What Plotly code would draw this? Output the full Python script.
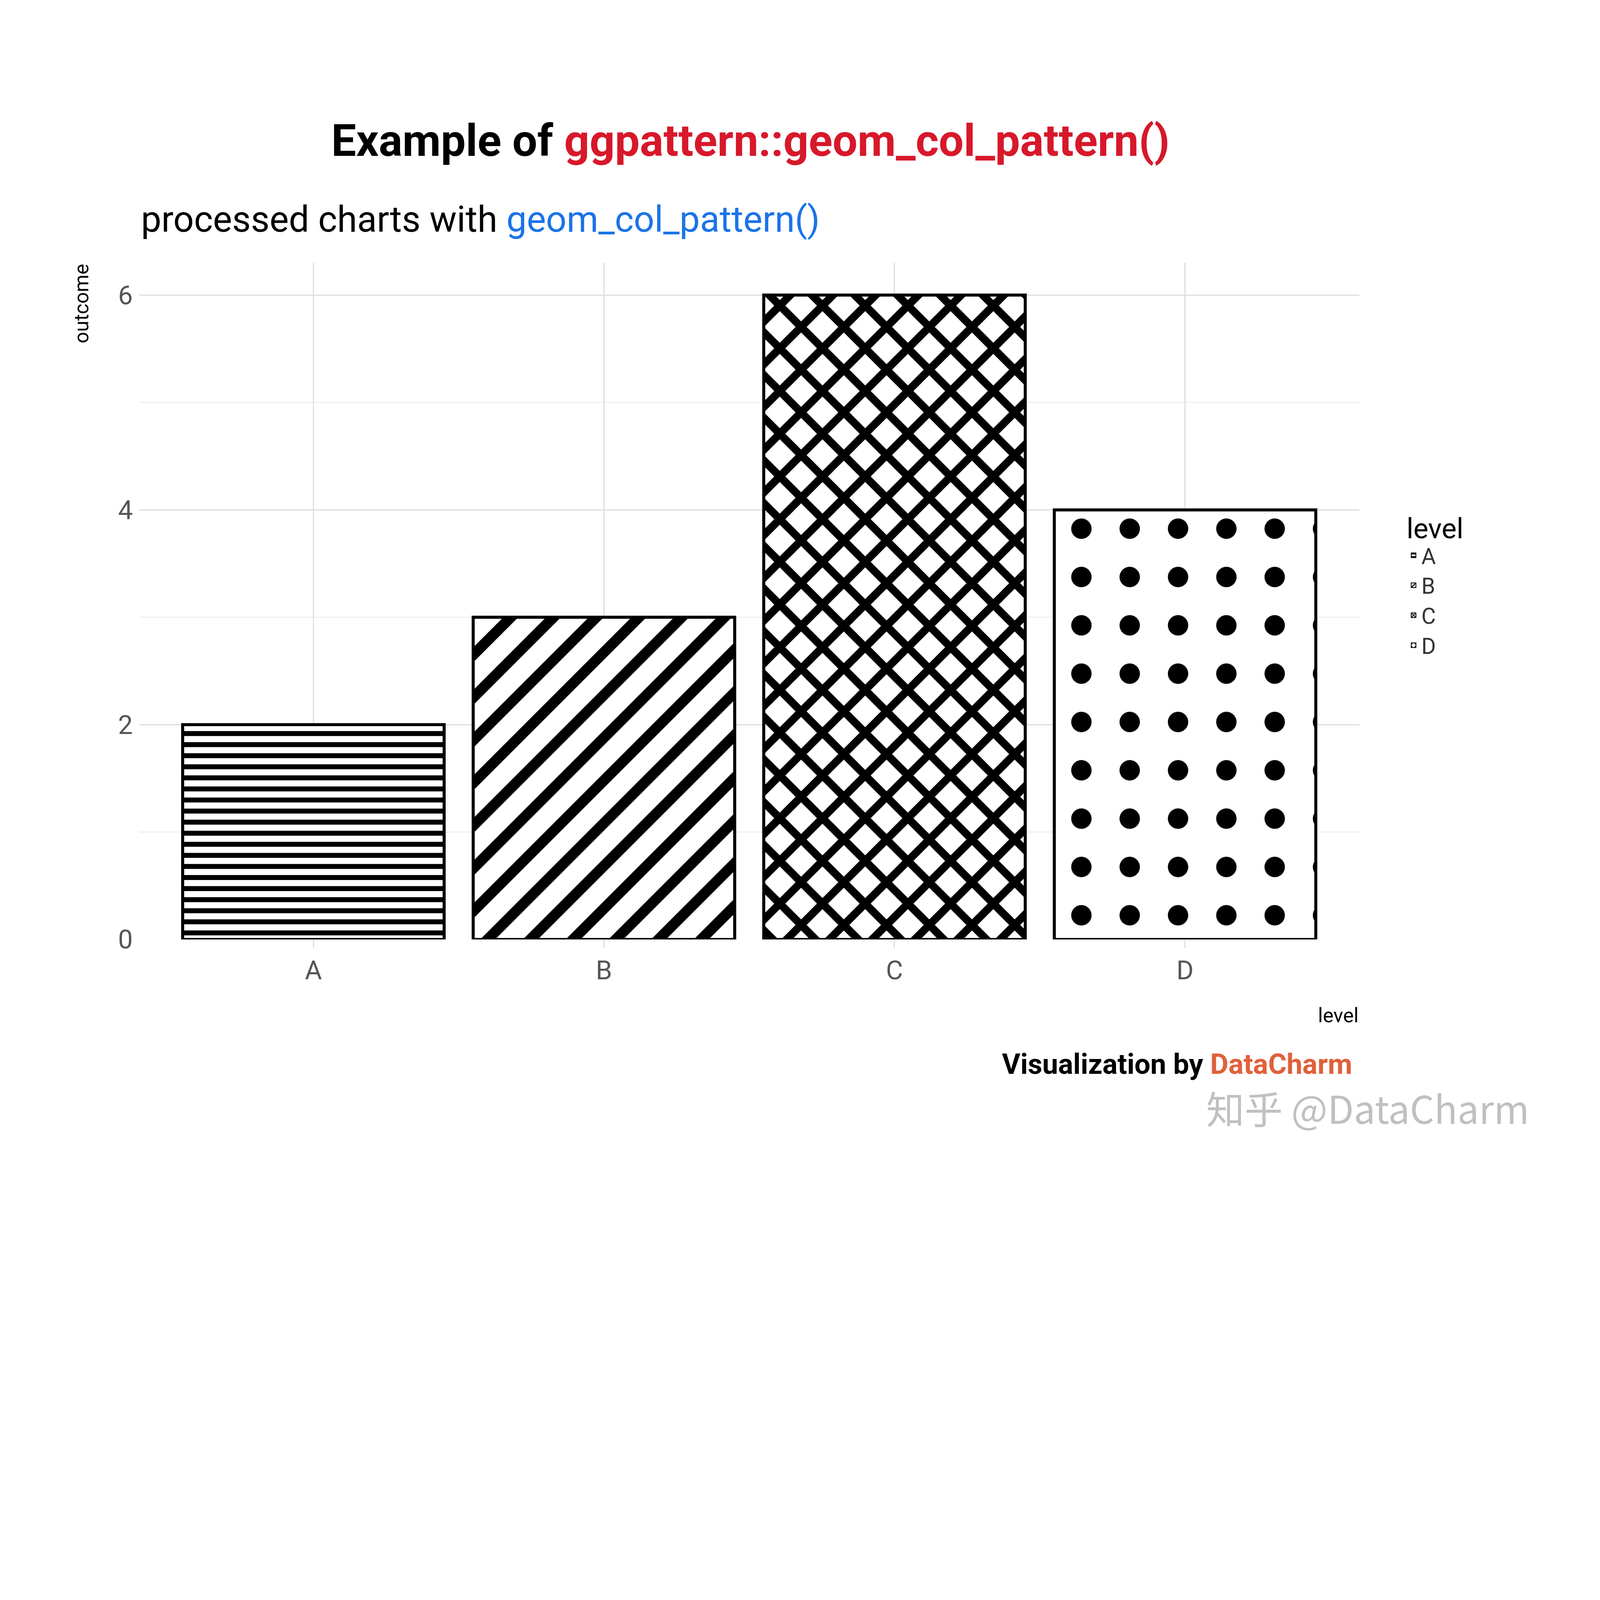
import plotly.graph_objects as go

levels = ["A", "B", "C", "D"]
outcome = [2, 3, 6, 4]
shapes = ["-", "/", "x", "."]
psize = [11, 30, 30, 48]
psolid = [0.45, 0.35, 0.45, 0.14]

W, H = 4000, 3000
S = W / 1552
fig = go.Figure()
for lv, v, sh, sz, so in zip(levels, outcome, shapes, psize, psolid):
    fig.add_trace(go.Bar(
        x=[lv], y=[v], name=lv, width=0.9,
        marker=dict(color="white", line=dict(color="black", width=3*S),
                    pattern=dict(shape=sh, fgcolor="black", bgcolor="white", fgopacity=1,
                                 size=sz*S, solidity=so, fillmode="replace")),
    ))

fig.update_layout(
    width=W, height=H, barmode="overlay",
    paper_bgcolor="white", plot_bgcolor="white",
    font=dict(family="Roboto", color="#333333"),
    margin=dict(l=135*S, r=205*S, t=258*S, b=234*S),
    xaxis=dict(range=[-0.6, 3.6], showgrid=True, gridcolor="#dddddd", gridwidth=S,
               tickfont=dict(size=26*S, color="#555555"), ticks="outside",
               ticklen=8*S, tickcolor="#dddddd", tickwidth=S, zeroline=False),
    yaxis=dict(range=[0, 6.3], tickvals=[0, 2, 4, 6], showgrid=True, gridcolor="#dddddd",
               gridwidth=S, tickfont=dict(size=26*S, color="#555555"), zeroline=False,
               minor=dict(showgrid=True, gridcolor="#e8e8e8", gridwidth=0.7*S, dtick=1),
               ticks="", ticklabelstandoff=int(6*S)),
    legend=dict(x=1.038, y=0.647, xanchor="left", yanchor="top",
                title=dict(text="level", font=dict(size=28*S, color="black")),
                font=dict(size=22*S, color="#333"), itemsizing="constant",
                tracegroupgap=10*S),
)
fig.add_annotation(xref="paper", yref="paper", x=0.501, y=1.22, showarrow=False,
    text="<b>Example of <span style='color:#D7182A'>ggpattern::geom_col_pattern()</span></b>",
    font=dict(size=44*S, color="black"))
fig.add_annotation(xref="paper", yref="paper", x=0.001, y=1.097, xanchor="left", showarrow=False,
    text="processed charts with <span style='color:#1A73E8'>geom_col_pattern()</span>",
    font=dict(size=36*S, color="black"))
fig.add_annotation(xref="paper", yref="paper", x=-0.037, y=1.0, yanchor="top", xanchor="right",
    textangle=-90, showarrow=False, text="outcome", font=dict(size=20*S, color="black"))
fig.add_annotation(xref="paper", yref="paper", x=1.0, y=-0.131, xanchor="right", showarrow=False,
    text="level", font=dict(size=20*S, color="black"))
fig.add_annotation(xref="paper", yref="paper", x=0.995, y=-0.21, xanchor="right", showarrow=False,
    text="<b>Visualization by <span style='color:#E0603A'>DataCharm</span></b>",
    font=dict(size=28*S, color="black"))
fig.add_annotation(xref="paper", yref="paper", x=1.14, y=-0.29, xanchor="right", showarrow=False,
    text="知乎 @DataCharm", font=dict(size=38*S, color="#c0c0c0", family="Noto Sans CJK SC"))
fig.write_html("out.html")
